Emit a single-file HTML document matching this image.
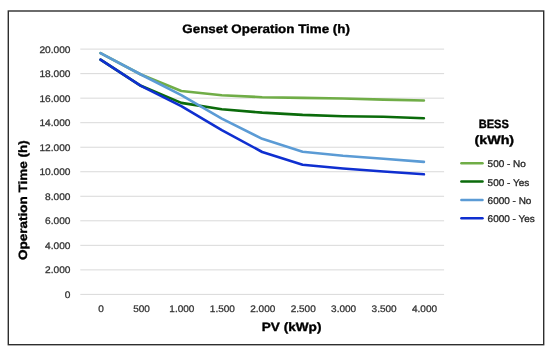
<!DOCTYPE html>
<html><head><meta charset="utf-8"><title>Genset Operation Time (h)</title>
<style>
html,body{margin:0;padding:0;background:#fff;}
body{width:550px;height:355px;overflow:hidden;}
svg{display:block;}
text{font-family:"Liberation Sans",sans-serif;text-rendering:geometricPrecision;}
.ax{font-size:9.6px;fill:#333;stroke:#333;stroke-width:0.28px;}
.lg{font-size:9.7px;fill:#262626;stroke:#262626;stroke-width:0.3px;}
.b{font-weight:bold;fill:#000;font-size:12px;stroke:#000;stroke-width:0.35px;}
</style></head><body>
<svg width="550" height="355" viewBox="0 0 550 355">
<rect x="0" y="0" width="550" height="355" fill="#fff"/>
<rect x="8.3" y="11.0" width="535.4" height="333.7" fill="#fff" stroke="#2e2e2e" stroke-width="1.4"/>

<line x1="80.3" x2="444.1" y1="294.40" y2="294.40" stroke="#d9d9d9" stroke-width="1"/>
<line x1="80.3" x2="444.1" y1="269.87" y2="269.87" stroke="#d9d9d9" stroke-width="1"/>
<line x1="80.3" x2="444.1" y1="245.34" y2="245.34" stroke="#d9d9d9" stroke-width="1"/>
<line x1="80.3" x2="444.1" y1="220.81" y2="220.81" stroke="#d9d9d9" stroke-width="1"/>
<line x1="80.3" x2="444.1" y1="196.28" y2="196.28" stroke="#d9d9d9" stroke-width="1"/>
<line x1="80.3" x2="444.1" y1="171.75" y2="171.75" stroke="#d9d9d9" stroke-width="1"/>
<line x1="80.3" x2="444.1" y1="147.22" y2="147.22" stroke="#d9d9d9" stroke-width="1"/>
<line x1="80.3" x2="444.1" y1="122.69" y2="122.69" stroke="#d9d9d9" stroke-width="1"/>
<line x1="80.3" x2="444.1" y1="98.16" y2="98.16" stroke="#d9d9d9" stroke-width="1"/>
<line x1="80.3" x2="444.1" y1="73.63" y2="73.63" stroke="#d9d9d9" stroke-width="1"/>
<line x1="80.3" x2="444.1" y1="49.10" y2="49.10" stroke="#d9d9d9" stroke-width="1"/>
<text class="ax" transform="translate(70.5,297.80) scale(1.06,1)" text-anchor="end">0</text>
<text class="ax" transform="translate(70.5,273.27) scale(1.06,1)" text-anchor="end">2.000</text>
<text class="ax" transform="translate(70.5,248.74) scale(1.06,1)" text-anchor="end">4.000</text>
<text class="ax" transform="translate(70.5,224.21) scale(1.06,1)" text-anchor="end">6.000</text>
<text class="ax" transform="translate(70.5,199.68) scale(1.06,1)" text-anchor="end">8.000</text>
<text class="ax" transform="translate(70.5,175.15) scale(1.06,1)" text-anchor="end">10.000</text>
<text class="ax" transform="translate(70.5,150.62) scale(1.06,1)" text-anchor="end">12.000</text>
<text class="ax" transform="translate(70.5,126.09) scale(1.06,1)" text-anchor="end">14.000</text>
<text class="ax" transform="translate(70.5,101.56) scale(1.06,1)" text-anchor="end">16.000</text>
<text class="ax" transform="translate(70.5,77.03) scale(1.06,1)" text-anchor="end">18.000</text>
<text class="ax" transform="translate(70.5,52.50) scale(1.06,1)" text-anchor="end">20.000</text>
<text class="ax" transform="translate(101.1,312) scale(1.045,1)" text-anchor="middle">0</text>
<text class="ax" transform="translate(141.5,312) scale(1.045,1)" text-anchor="middle">500</text>
<text class="ax" transform="translate(181.9,312) scale(1.045,1)" text-anchor="middle">1.000</text>
<text class="ax" transform="translate(222.4,312) scale(1.045,1)" text-anchor="middle">1.500</text>
<text class="ax" transform="translate(262.8,312) scale(1.045,1)" text-anchor="middle">2.000</text>
<text class="ax" transform="translate(303.2,312) scale(1.045,1)" text-anchor="middle">2.500</text>
<text class="ax" transform="translate(343.6,312) scale(1.045,1)" text-anchor="middle">3.000</text>
<text class="ax" transform="translate(384.1,312) scale(1.045,1)" text-anchor="middle">3.500</text>
<text class="ax" transform="translate(424.5,312) scale(1.045,1)" text-anchor="middle">4.000</text>
<polyline points="100.5,53.2 140.9,74.5 181.3,91.0 221.8,95.3 262.2,97.2 302.6,97.9 343.0,98.5 383.5,99.6 423.9,100.5" fill="none" stroke="#70AD47" stroke-width="2.6" stroke-linejoin="round" stroke-linecap="round"/>
<polyline points="100.5,59.7 140.9,85.8 181.3,102.9 221.8,109.3 262.2,112.6 302.6,114.9 343.0,116.2 383.5,116.8 423.9,118.2" fill="none" stroke="#0B6B0B" stroke-width="2.6" stroke-linejoin="round" stroke-linecap="round"/>
<polyline points="100.5,53.2 140.9,74.5 181.3,95.2 221.8,118.6 262.2,138.8 302.6,151.8 343.0,155.8 383.5,158.8 423.9,161.9" fill="none" stroke="#5B9BD5" stroke-width="2.6" stroke-linejoin="round" stroke-linecap="round"/>
<polyline points="100.5,59.7 140.9,85.8 181.3,106.1 221.8,130.1 262.2,152.0 302.6,164.8 343.0,168.5 383.5,171.5 423.9,174.3" fill="none" stroke="#0F2FD0" stroke-width="2.6" stroke-linejoin="round" stroke-linecap="round"/>
<text class="b" style="font-size:12.3px" x="266.1" y="33.2" text-anchor="middle" textLength="167.6" lengthAdjust="spacingAndGlyphs">Genset Operation Time (h)</text>
<text class="b" x="291.6" y="331.1" text-anchor="middle" textLength="59.7" lengthAdjust="spacingAndGlyphs">PV (kWp)</text>
<text class="b" transform="translate(27.4,200.2) rotate(-90)" text-anchor="middle" textLength="119.8" lengthAdjust="spacingAndGlyphs">Operation Time (h)</text>
<text class="b" x="493.8" y="128" text-anchor="middle" textLength="30.1" lengthAdjust="spacingAndGlyphs">BESS</text>
<text class="b" x="494.3" y="144.3" text-anchor="middle" textLength="39.7" lengthAdjust="spacingAndGlyphs">(kWh)</text>
<line x1="461.4" x2="482.5" y1="163.3" y2="163.3" stroke="#70AD47" stroke-width="2.5" stroke-linecap="round"/>
<text class="lg" transform="translate(487.6,167.2) scale(1.03,1)">500 - No</text>
<line x1="461.4" x2="482.5" y1="181.6" y2="181.6" stroke="#0B6B0B" stroke-width="2.5" stroke-linecap="round"/>
<text class="lg" transform="translate(487.6,185.5) scale(1.03,1)">500 - Yes</text>
<line x1="461.4" x2="482.5" y1="199.9" y2="199.9" stroke="#5B9BD5" stroke-width="2.5" stroke-linecap="round"/>
<text class="lg" transform="translate(487.6,203.8) scale(1.03,1)">6000 - No</text>
<line x1="461.4" x2="482.5" y1="218.2" y2="218.2" stroke="#0F2FD0" stroke-width="2.5" stroke-linecap="round"/>
<text class="lg" transform="translate(487.6,222.1) scale(1.03,1)">6000 - Yes</text>
</svg></body></html>
